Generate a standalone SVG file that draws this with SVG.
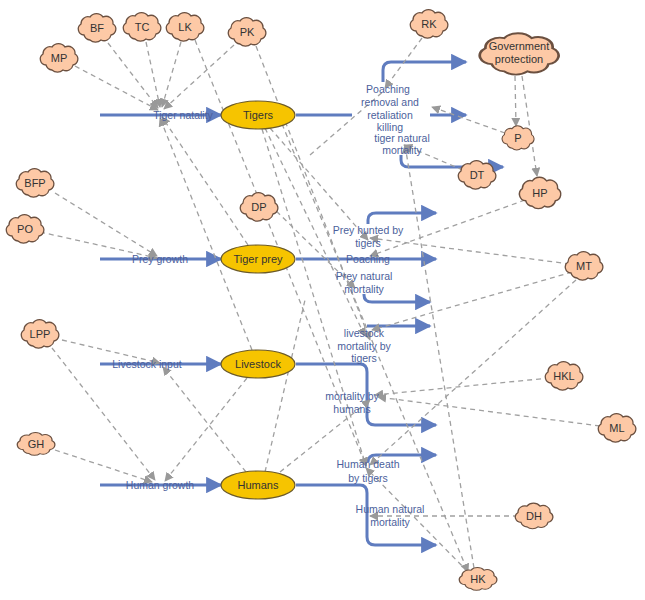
<svg xmlns="http://www.w3.org/2000/svg" width="645" height="600" viewBox="0 0 645 600">
<style>
.fl{fill:none;stroke:#5f7cbf;stroke-width:3;stroke-linejoin:round}
.ln{fill:none;stroke:#a0a0a0;stroke-width:1.3;stroke-dasharray:5,4}
.st{fill:#f6c400;stroke:#6b5a2a;stroke-width:1.2}
.cl{fill:#fdc9a6;stroke:#6b5040;stroke-width:1.3;vector-effect:non-scaling-stroke}
.t{font-family:"Liberation Sans",Arial,sans-serif;font-size:11px;text-anchor:middle;dominant-baseline:central;fill:#333}
.ft{font-family:"Liberation Sans",Arial,sans-serif;font-size:10.5px;text-anchor:middle;dominant-baseline:central;fill:#4c5f9c}
</style>
<defs>
<marker id="fa" viewBox="0 0 10 10" refX="9" refY="5" markerWidth="5.5" markerHeight="5.5" orient="auto" markerUnits="strokeWidth"><path d="M0,0L10,5L0,10z" fill="#5f7cbf"/></marker>
<marker id="da" viewBox="0 0 10 10" refX="9" refY="5" markerWidth="7" markerHeight="7" orient="auto" markerUnits="strokeWidth"><path d="M0,0L10,5L0,10z" fill="#999"/></marker>
<path id="cloud" d="M-13,7 a6,6 0 0 1 -3,-11 a7,7 0 0 1 9,-7 a8,8 0 0 1 13,0 a7,7 0 0 1 10,7 a6,6 0 0 1 -2,11 a7,7 0 0 1 -10,5 a8,8 0 0 1 -11,0 a7,7 0 0 1 -6,-5 z"/>
</defs>
<g id="connectors">
<path class="fl" d="M100,115H221" marker-end="url(#fa)"/>
<path class="fl" d="M296,115H352"/>
<path class="fl" d="M430,115H466" marker-end="url(#fa)"/>
<path class="fl" d="M383,82V70q0,-8 8,-8H466" marker-end="url(#fa)"/>
<path class="fl" d="M401,155V160q0,7 8,7H503" marker-end="url(#fa)"/>
<path class="fl" d="M100,259H221" marker-end="url(#fa)"/>
<path class="fl" d="M296,259H436" marker-end="url(#fa)"/>
<path class="fl" d="M368,224V220q0,-7 8,-7H436" marker-end="url(#fa)"/>
<path class="fl" d="M364,294V295q0,7 8,7H430" marker-end="url(#fa)"/>
<path class="fl" d="M100,364H221" marker-end="url(#fa)"/>
<path class="fl" d="M296,364H360q7,0 7,8V417q0,8 8,8H436" marker-end="url(#fa)"/>
<path class="fl" d="M367,326H430" marker-end="url(#fa)"/>
<path class="fl" d="M100,485H221" marker-end="url(#fa)"/>
<path class="fl" d="M296,485H360q7,0 7,8V537q0,8 8,8H436" marker-end="url(#fa)"/>
<path class="fl" d="M368,462q0,-7 8,-7H436" marker-end="url(#fa)"/>
<path class="ln" d="M75,66L158,110" marker-end="url(#da)"/>
<path class="ln" d="M108,43L158,108" marker-end="url(#da)"/>
<path class="ln" d="M146,42L160,107" marker-end="url(#da)"/>
<path class="ln" d="M181,42L162,107" marker-end="url(#da)"/>
<path class="ln" d="M234,45L164,109" marker-end="url(#da)"/>
<path class="ln" d="M248,245L162,117" marker-end="url(#da)"/>
<path class="ln" d="M252,350L160,118" marker-end="url(#da)"/>
<path class="ln" d="M55,193L157,256" marker-end="url(#da)"/>
<path class="ln" d="M40,232L157,258" marker-end="url(#da)"/>
<path class="ln" d="M62,340L160,363" marker-end="url(#da)"/>
<path class="ln" d="M246,472L163,367" marker-end="url(#da)"/>
<path class="ln" d="M52,348L155,480" marker-end="url(#da)"/>
<path class="ln" d="M55,450L152,482" marker-end="url(#da)"/>
<path class="ln" d="M247,378L165,481" marker-end="url(#da)"/>
<path class="ln" d="M195,40L366,466" marker-end="url(#da)"/>
<path class="ln" d="M256,46L370,340" marker-end="url(#da)"/>
<path class="ln" d="M422,38L385,88" marker-end="url(#da)"/>
<path class="ln" d="M515,76L516,126" marker-end="url(#da)"/>
<path class="ln" d="M522,76L537,176" marker-end="url(#da)"/>
<path class="ln" d="M505,133L432,107" marker-end="url(#da)"/>
<path class="ln" d="M463,170L404,145" marker-end="url(#da)"/>
<path class="ln" d="M525,200L370,256" marker-end="url(#da)"/>
<path class="ln" d="M570,264L370,238" marker-end="url(#da)"/>
<path class="ln" d="M572,272L372,330" marker-end="url(#da)"/>
<path class="ln" d="M576,280L370,465" marker-end="url(#da)"/>
<path class="ln" d="M550,378L375,395" marker-end="url(#da)"/>
<path class="ln" d="M600,426L378,397" marker-end="url(#da)"/>
<path class="ln" d="M518,516L370,516" marker-end="url(#da)"/>
<path class="ln" d="M468,572L366,468" marker-end="url(#da)"/>
<path class="ln" d="M474,568L405,145" marker-end="url(#da)"/>
<path class="ln" d="M270,205L355,288" marker-end="url(#da)"/>
<path class="ln" d="M270,128L368,240" marker-end="url(#da)"/>
<path class="ln" d="M265,128L365,336" marker-end="url(#da)"/>
<path class="ln" d="M262,129L366,466" marker-end="url(#da)"/>
<path class="ln" d="M282,124L468,572" marker-end="url(#da)"/>
<path class="ln" d="M280,472L370,400" marker-end="url(#da)"/>
<path class="ln" d="M265,472L305,300"/>
<path class="ln" d="M310,155L385,90"/>
</g>
<g id="Tigers"><ellipse class="st" cx="258" cy="115" rx="37" ry="14"/><text class="t" x="258" y="115">Tigers</text></g>
<g id="TigerPrey"><ellipse class="st" cx="258" cy="259" rx="37" ry="14"/><text class="t" x="258" y="259">Tiger prey</text></g>
<g id="Livestock"><ellipse class="st" cx="258" cy="364" rx="37" ry="14"/><text class="t" x="258" y="364">Livestock</text></g>
<g id="Humans"><ellipse class="st" cx="258" cy="485" rx="37" ry="14"/><text class="t" x="258" y="485">Humans</text></g>
<g id="flowlabels">
<text class="ft" x="183" y="115">Tiger natality</text>
<text class="ft" x="160" y="259">Prey growth</text>
<text class="ft" x="147" y="364">Livestock input</text>
<text class="ft" x="160" y="485">Human growth</text>
<text class="ft" x="388" y="89">Poaching</text><text class="ft" x="390" y="102">removal and</text><text class="ft" x="390" y="115">retaliation</text><text class="ft" x="390" y="127">killing</text>
<text class="ft" x="402" y="138">tiger natural</text><text class="ft" x="402" y="150">mortality</text>
<text class="ft" x="368" y="230">Prey hunted by</text><text class="ft" x="368" y="243">tigers</text>
<text class="ft" x="368" y="259">Poaching</text>
<text class="ft" x="364" y="276">Prey natural</text><text class="ft" x="364" y="289">mortality</text>
<text class="ft" x="364" y="333">livestock</text><text class="ft" x="364" y="346">mortality by</text><text class="ft" x="364" y="358">tigers</text>
<text class="ft" x="352" y="396">mortality by</text><text class="ft" x="352" y="409">humans</text>
<text class="ft" x="368" y="464">Human death</text><text class="ft" x="368" y="478">by tigers</text>
<text class="ft" x="390" y="509">Human natural</text><text class="ft" x="390" y="522">mortality</text>
</g>
<g id="BF"><use href="#cloud" class="cl" transform="translate(97,28)"/><text class="t" x="97" y="28">BF</text></g>
<g id="TC"><use href="#cloud" class="cl" transform="translate(142,27)"/><text class="t" x="142" y="27">TC</text></g>
<g id="LK"><use href="#cloud" class="cl" transform="translate(185,27)"/><text class="t" x="185" y="27">LK</text></g>
<g id="PK"><use href="#cloud" class="cl" transform="translate(247,32)"/><text class="t" x="247" y="32">PK</text></g>
<g id="MP"><use href="#cloud" class="cl" transform="translate(59,58)"/><text class="t" x="59" y="58">MP</text></g>
<g id="RK"><use href="#cloud" class="cl" transform="translate(429,24)"/><text class="t" x="429" y="24">RK</text></g>
<g id="GP"><use href="#cloud" class="cl" transform="translate(519,54) scale(2.1,1.45)"/><text class="t" x="519" y="46">Government</text><text class="t" x="519" y="59">protection</text></g>
<g id="P"><use href="#cloud" class="cl" transform="translate(518,138) scale(0.85,0.85)"/><text class="t" x="518" y="138">P</text></g>
<g id="DT"><use href="#cloud" class="cl" transform="translate(477,175)"/><text class="t" x="477" y="175">DT</text></g>
<g id="HP"><use href="#cloud" class="cl" transform="translate(540,193) scale(1.1,1.1)"/><text class="t" x="540" y="193">HP</text></g>
<g id="BFP"><use href="#cloud" class="cl" transform="translate(35,183)"/><text class="t" x="35" y="183">BFP</text></g>
<g id="PO"><use href="#cloud" class="cl" transform="translate(25,229)"/><text class="t" x="25" y="229">PO</text></g>
<g id="DP"><use href="#cloud" class="cl" transform="translate(259,207)"/><text class="t" x="259" y="207">DP</text></g>
<g id="MT"><use href="#cloud" class="cl" transform="translate(584,266)"/><text class="t" x="584" y="266">MT</text></g>
<g id="HKL"><use href="#cloud" class="cl" transform="translate(564,376)"/><text class="t" x="564" y="376">HKL</text></g>
<g id="ML"><use href="#cloud" class="cl" transform="translate(617,428)"/><text class="t" x="617" y="428">ML</text></g>
<g id="LPP"><use href="#cloud" class="cl" transform="translate(40,334)"/><text class="t" x="40" y="334">LPP</text></g>
<g id="GH"><use href="#cloud" class="cl" transform="translate(36,444) scale(1,0.8)"/><text class="t" x="36" y="444">GH</text></g>
<g id="DH"><use href="#cloud" class="cl" transform="translate(534,516) scale(1,0.9)"/><text class="t" x="534" y="516">DH</text></g>
<g id="HK"><use href="#cloud" class="cl" transform="translate(478,579) scale(1,0.8)"/><text class="t" x="478" y="579">HK</text></g>
</svg>
